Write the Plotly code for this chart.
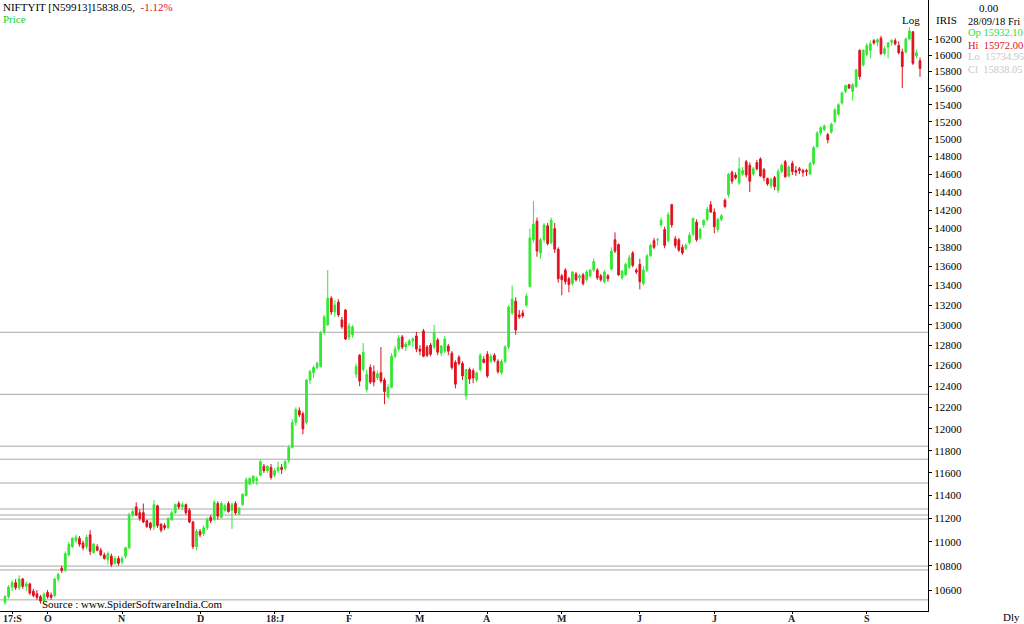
import plotly.graph_objects as go

# ---- OHLC data (daily, Sep 2017 - 28 Sep 2018) ----
opens = [
 10500,10545,10625,10660,10620,10690,10630,10650,10590,10570,10545,10510,
 10580,10560,10555,10690,10780,10760,10890,10960,11010,11030,10990,10960,11060,10910,10960,10930,10890,10850,10880,10820,10860,
 10830,10880,10950,11230,11300,11250,11250,11180,11160,11130,11310,11150,11140,11120,11190,11250,11330,11300,11320,11270,11170,10960,
 11090,11070,11120,11210,11190,11330,11210,11270,11330,11270,11330,11240,11320,11400,11500,11520,11530,11580,11660,11620,11650,
 11580,11620,11650,11640,11710,11830,12060,12170,12140,12060,12460,12530,12580,12590,12930,13000,13270,13130,13230,13050,13150,
 12880,12900,12515,12700,12560,12370,12580,12540,12480,12530,12460,12300,12390,12690,12760,12880,12780,12800,12840,12890,
 12760,12940,12780,12800,12780,12850,12720,12740,12790,12720,12630,12680,12620,12310,12560,12550,12460,12560,12660,
 12710,12640,12700,12640,12530,12640,12780,13120,13240,13100,13120,13200,13390,13880,14080,13740,13880,14030,13850,14000,13780,
 13500,13560,13470,13420,13520,13480,13510,13460,13500,13560,13560,13500,13440,13500,13570,13880,13830,13480,13510,13590,13740,13560,
 13620,13420,13560,13710,13870,13880,14040,13990,13870,14260,13890,13880,13800,13790,13850,13940,14070,13900,14040,14100,14260,
 14180,13990,14100,14310,14370,14620,14590,14500,14600,14740,14700,14600,14730,14770,14650,14550,14470,14560,14420,14630,14740,14580,
 14720,14640,14660,14640,14640,14600,14720,14910,15070,15110,15050,15080,15200,15290,15420,15560,15640,15560,15620,16060,15880,
 16010,16060,16180,16160,16210,16020,16100,16160,16180,16120,16040,16040,16200,16290,15990,15932.10,
]
highs = [
 10560,10640,10680,10690,10720,10700,10670,10660,10610,10600,10560,10580,
 10600,10580,10700,10740,10800,10920,11000,11040,11060,11050,11010,11060,11100,10990,10980,10950,10910,10920,10900,10880,10880,
 10880,10960,11250,11280,11340,11280,11330,11190,11170,11360,11320,11160,11160,11210,11270,11330,11350,11340,11330,11290,11180,11110,
 11110,11140,11210,11230,11360,11350,11350,11330,11350,11340,11350,11300,11420,11560,11560,11580,11570,11720,11680,11670,11680,
 11640,11700,11680,11720,11850,12090,12200,12200,12160,12470,12560,12600,12640,12940,13100,13560,13290,13250,13260,13080,13160,
 13020,13000,12620,12710,12820,12560,12610,12600,12550,12780,12480,12420,12720,12790,12900,12900,12830,12860,12880,12930,
 12800,12960,12800,12820,13000,12870,12800,12890,12810,12740,12650,12700,12640,12560,12580,12570,12540,12720,12690,
 12740,12720,12720,12660,12660,12800,13200,13400,13280,13150,13150,13320,14000,14300,14120,13900,14060,14060,14120,14060,13800,
 13520,13580,13490,13550,13540,13520,13530,13560,13570,13680,13580,13520,13560,13520,13800,13960,13840,13560,13640,13720,13760,13580,
 13680,13600,13730,13840,13900,13900,14120,14020,14180,14270,13920,13900,13830,13840,13960,14120,14100,14010,14100,14240,14300,
 14220,14120,14160,14330,14610,14640,14620,14790,14680,14760,14730,14680,14760,14790,14670,14560,14560,14580,14660,14720,14760,14700,
 14750,14690,14680,14660,14660,14740,14920,15090,15150,15170,15070,15190,15360,15420,15560,15640,15650,15660,15830,16070,16070,
 16150,16180,16200,16210,16240,16110,16160,16200,16210,16170,16080,16220,16350,16300,16070,15972.00,
]
lows = [
 10480,10530,10590,10600,10600,10610,10590,10560,10540,10520,10490,10500,
 10530,10520,10540,10670,10740,10750,10880,10950,10990,10960,10930,10940,10890,10900,10920,10880,10850,10810,10790,10810,10800,
 10810,10860,10940,11210,11220,11180,11160,11120,11100,11100,11120,11080,11100,11110,11180,11240,11280,11270,11230,11160,10940,10930,
 11040,11050,11100,11160,11180,11190,11200,11260,11250,11110,11230,11230,11310,11390,11490,11500,11490,11570,11600,11600,11540,
 11560,11600,11590,11620,11690,11820,12030,12110,11950,12040,12420,12480,12560,12580,12900,12990,13100,13080,13080,12960,12850,
 12850,12870,12480,12400,12540,12340,12420,12400,12460,12430,12230,12280,12380,12670,12740,12760,12740,12790,12780,12730,
 12700,12680,12680,12690,12760,12700,12690,12720,12700,12560,12380,12600,12460,12270,12420,12430,12440,12540,12620,
 12480,12620,12630,12520,12510,12620,12760,13100,12900,13060,13070,13180,13380,13850,13700,13680,13850,13820,13830,13740,13430,
 13300,13410,13330,13400,13440,13440,13400,13440,13480,13540,13460,13440,13420,13440,13560,13740,13500,13460,13500,13570,13590,13520,
 13360,13400,13540,13700,13780,13820,14020,13790,13850,14010,13790,13750,13720,13770,13830,13920,13860,13880,14010,14080,14170,
 13950,13960,14080,14220,14340,14490,14540,14480,14580,14560,14400,14580,14640,14570,14520,14470,14440,14420,14390,14610,14560,14560,
 14590,14580,14600,14570,14580,14590,14700,14900,15040,15090,14950,15060,15190,15270,15400,15540,15590,15450,15600,15700,15860,
 15990,15960,16130,16110,16000,16000,15960,16120,16120,16010,15600,16020,16190,15880,15960,15734.95,
]
closes = [
 10545,10625,10660,10620,10690,10630,10650,10575,10555,10540,10510,10565,
 10545,10540,10690,10730,10760,10900,10980,11030,11040,10980,10950,11040,10920,10980,10930,10890,10860,10900,10810,10860,10820,
 10860,10950,11230,11260,11230,11200,11170,11130,11120,11320,11140,11100,11120,11200,11250,11320,11300,11320,11250,11170,10960,11090,
 11060,11120,11190,11180,11340,11220,11330,11310,11260,11320,11250,11290,11410,11540,11550,11570,11550,11700,11620,11660,11560,
 11620,11650,11630,11700,11830,12060,12180,12130,12000,12460,12540,12580,12620,12920,13080,13270,13130,13200,13100,12980,12860,
 12990,12980,12590,12450,12730,12515,12440,12440,12520,12450,12350,12390,12690,12760,12870,12780,12810,12840,12860,12760,
 12740,12690,12700,12710,12920,12730,12790,12860,12740,12580,12420,12620,12500,12560,12470,12480,12530,12700,12630,
 12500,12690,12650,12540,12640,12780,13180,13260,12950,13080,13090,13290,13900,14050,13760,13880,14040,13840,14090,13780,13470,
 13460,13440,13410,13540,13460,13500,13420,13540,13560,13650,13480,13460,13540,13470,13760,13760,13510,13550,13620,13690,13610,13540,
 13440,13560,13710,13820,13800,13880,14090,13820,14150,14040,13820,13770,13740,13820,13930,14110,13880,13990,14090,14210,14180,
 14020,14100,14140,14240,14600,14520,14560,14660,14640,14590,14520,14660,14660,14580,14560,14490,14540,14460,14630,14700,14570,14680,
 14630,14620,14640,14620,14630,14720,14900,15070,15130,15150,14990,15170,15340,15400,15540,15630,15600,15640,15820,15740,16060,
 16120,16140,16150,16190,16020,16080,16150,16180,16140,16030,15860,16200,16300,15900,16030,15838.05,
]
month_start_idx = [2, 12, 33, 55, 76, 97, 117, 136, 157, 179, 200, 222, 243]
month_labels = ["17:S", "O", "N", "D", "18:J", "F", "M", "A", "M", "J", "J", "A", "S"]
support_levels = [12926, 12323, 11841, 11723, 11510, 11282, 11230, 11195, 10797, 10765, 10520]
y_ticks = list(range(10600, 16201, 200))

n = len(closes)
idx = list(range(n))
step = 915.0 / (n - 1)
x0 = -5.0 / step
x1 = (928.0 - 5.0) / step

fig = go.Figure()
fig.add_trace(go.Candlestick(
    x=idx, open=opens, high=highs, low=lows, close=closes,
    increasing=dict(line=dict(color="#33e833", width=1), fillcolor="#33e833"),
    decreasing=dict(line=dict(color="#e0101e", width=1), fillcolor="#e0101e"),
    whiskerwidth=0, showlegend=False, hoverinfo="skip"))

for lv in support_levels:
    fig.add_shape(type="line", xref="paper", x0=0, x1=1, yref="y", y0=lv, y1=lv,
                  line=dict(color="#a8a8a8", width=1), layer="below")

font = "Liberation Serif"
fig.update_layout(
    width=1024, height=624, margin=dict(l=0, r=96, t=0, b=13),
    paper_bgcolor="white", plot_bgcolor="white",
    font=dict(family=font, size=11, color="black"),
    xaxis=dict(range=[x0, x1], rangeslider=dict(visible=False), showgrid=False,
               tickvals=month_start_idx, showticklabels=False, ticks="outside",
               ticklen=2, tickcolor="black", showline=True, linecolor="black",
               linewidth=1, zeroline=False, automargin=False),
    yaxis=dict(type="log", range=[4.01829, 4.22256], side="right", showgrid=False,
               tickvals=y_ticks, ticktext=[str(v) for v in y_ticks], ticks="outside",
               ticklen=3, tickcolor="black", showline=True, linecolor="black",
               linewidth=1, zeroline=False, automargin=False,
               tickfont=dict(size=11, family=font)),
)

for mi, ml in zip(month_start_idx, month_labels):
    fig.add_annotation(xref="x", yref="paper", x=mi, y=-7 / 611.0, text="<b>" + ml + "</b>",
                       showarrow=False, xanchor="center", yanchor="middle",
                       font=dict(family=font, size=10, color="#222"))

def txt(x, y, s, color="black", anchor="left", size=11):
    fig.add_annotation(xref="paper", yref="paper", x=x / 928.0, y=1 - y / 611.0,
                       text=s, showarrow=False, xanchor=anchor, yanchor="middle",
                       font=dict(family=font, size=size, color=color))

txt(1, 7, "NIFTYIT [N59913]15838.05,  <span style='color:#e0101e'>-1.12%</span>")
txt(1, 19, "Price", "#22cc22")
txt(922, 20, "Log", anchor="right")
txt(934, 20, "IRIS")
txt(977, 8, "0.00")
txt(966, 21, "28/09/18 Fri", size=10.5)
txt(966, 33, "Op 15932.10", "#33dd33", size=10.5)
txt(966, 45, "Hi  15972.00", "#e0101e", size=10.5)
txt(966, 57, "Lo  15734.95", "#c8c8c8", size=10.5)
txt(966, 69, "Cl  15838.05", "#c8c8c8", size=10.5)
txt(40, 604, "Source : www.SpiderSoftwareIndia.Com")
txt(1022, 617, "Dly", anchor="right")
fig.add_annotation(xref="paper", yref="y", x=930 / 928.0, y=15838.05, text="15838.0",
                   showarrow=False, xanchor="left", bgcolor="black",
                   font=dict(family=font, size=11, color="white"), borderpad=1)

fig.write_html("out.html", config={"displayModeBar": False},
               post_script="document.body.style.margin='0';document.body.style.overflow='hidden';")
